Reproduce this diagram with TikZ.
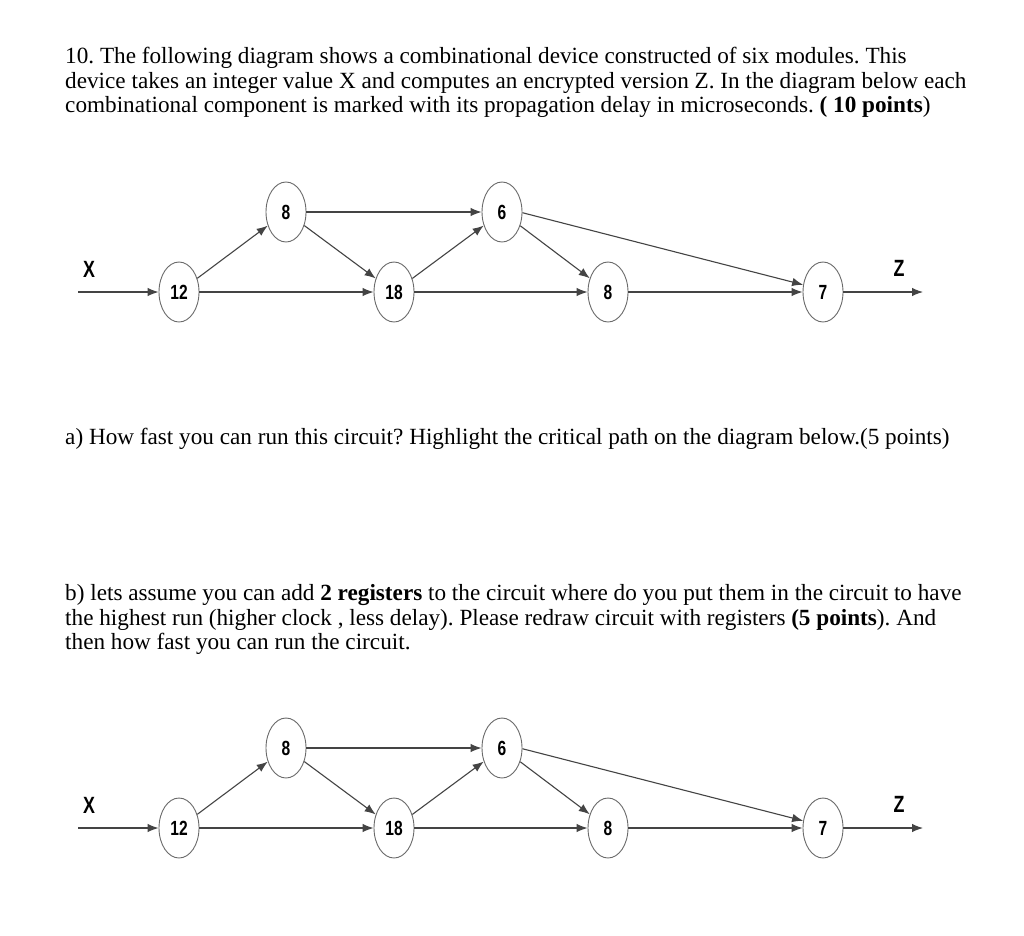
\documentclass[tikz,border=0pt]{standalone}
\usepackage{fontspec}
\setmainfont{Liberation Serif}
\newfontfamily\lsans{Liberation Sans}
\usetikzlibrary{shapes.geometric,arrows.meta}
\definecolor{edgegray}{HTML}{444444}
\definecolor{ringgray}{HTML}{6A6A6A}
\tikzset{
  modnode/.style={ellipse,draw=ringgray,line width=0.9pt,minimum width=40pt,minimum height=60pt,inner sep=0pt,
    font=\lsans\bfseries\fontsize{20.5}{22}\selectfont},
  conn/.style={draw=edgegray,line width=1.1pt,-{Latex[length=11pt,width=8.5pt]}},
  iolabel/.style={font=\lsans\bfseries\fontsize{23.5}{25}\selectfont,inner sep=0pt},
  txtline/.style={anchor=base west,inner sep=0pt,font=\fontsize{23.2}{25}\selectfont}
}
\newcommand{\drawcircuit}[1]{%
  \node[modnode] (#1a) at (179,292) {\scalebox{0.76}[1]{12}};
  \node[modnode] (#1b) at (286,212) {\scalebox{0.76}[1]{8}};
  \node[modnode] (#1c) at (394,292) {\scalebox{0.76}[1]{18}};
  \node[modnode] (#1d) at (502,212) {\scalebox{0.76}[1]{6}};
  \node[modnode] (#1e) at (608,292) {\scalebox{0.76}[1]{8}};
  \node[modnode] (#1f) at (823,292) {\scalebox{0.76}[1]{7}};
  \coordinate (#1in) at (78,292);
  \coordinate (#1out) at (923,292);
  \node[iolabel] (#1X) at (89,269) {\scalebox{0.76}[1]{X}};
  \node[iolabel] (#1Z) at (899,268) {\scalebox{0.76}[1]{Z}};
  \draw[conn] (#1in) -- (#1a);
  \draw[conn] (#1a) -- (#1b);
  \draw[conn] (#1a) -- (#1c);
  \draw[conn] (#1b) -- (#1d);
  \draw[conn] (#1b) -- (#1c);
  \draw[conn] (#1c) -- (#1d);
  \draw[conn] (#1c) -- (#1e);
  \draw[conn] (#1d) -- (#1e);
  \draw[conn] (#1d.-2) -- (#1f.160);
  \draw[conn] (#1e) -- (#1f);
  \draw[conn] (#1f) -- (#1out);
}
\begin{document}
\frenchspacing
\begin{tikzpicture}[x=1pt,y=-1pt]
\fill[white] (0,0) rectangle (1024,935);
\useasboundingbox (0,0) rectangle (1024,935);
\node[txtline] (t1) at (65,63) {10. The following diagram shows a combinational device constructed of six modules. This};
\node[txtline] (t2) at (65,88) {device takes an integer value X and computes an encrypted version Z. In the diagram below each};
\node[txtline] (t3) at (65,112) {combinational component is marked with its propagation delay in microseconds. \textbf{( 10 points})};
\drawcircuit{p}
\node[txtline] (ta) at (65,444) {a) How fast you can run this circuit? Highlight the critical path on the diagram below.(5 points)};
\node[txtline] (tb1) at (65,600) {b) lets assume you can add \textbf{2 registers} to the circuit where do you put them in the circuit to have};
\node[txtline] (tb2) at (65,625) {the highest run (higher clock , less delay). Please redraw circuit with registers \textbf{(5 points}). And};
\node[txtline] (tb3) at (65,649) {then how fast you can run the circuit.};
\begin{scope}[yshift=-536pt]
\drawcircuit{q}
\end{scope}
\end{tikzpicture}
\end{document}
